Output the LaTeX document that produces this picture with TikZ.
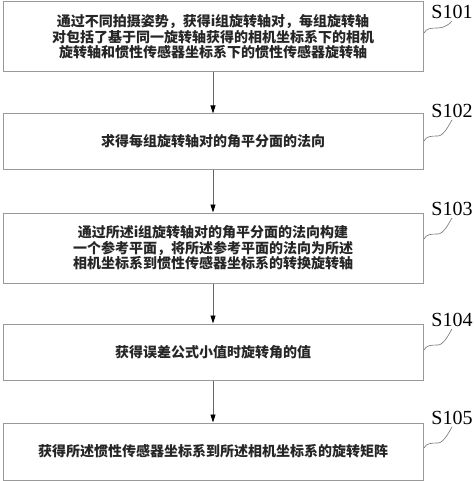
\documentclass[tikz,border=0pt]{standalone}
\usepackage{fontspec}
\newfontfamily\cjk{Noto Sans CJK SC}
\newfontfamily\labfont{Liberation Serif}
\usetikzlibrary{arrows.meta}
\begin{document}
\begin{tikzpicture}[x=1pt,y=-1pt,
  stepbox/.style={draw=black!40, line width=1pt, minimum width=420pt, align=center, font=\cjk\bfseries\fontsize{14}{15.5}\selectfont, text=black!85},
  steplab/.style={font=\labfont\fontsize{20}{20}\selectfont, inner sep=2pt},
  flow/.style={draw=black!60, line width=0.8pt, -{Triangle[length=8pt,width=5pt,black]}},
  wave/.style={draw=black!55, line width=0.6pt}]
\useasboundingbox (0,0) rectangle (474,481);
\node[stepbox, minimum height=70pt] (b1) at (213,37) {通过不同拍摄姿势，获得i组旋转轴对，每组旋转轴\\对包括了基于同一旋转轴获得的相机坐标系下的相机\\旋转轴和惯性传感器坐标系下的惯性传感器旋转轴};
\node[stepbox, minimum height=55pt] (b2) at (213,141.5) {求得每组旋转轴对的角平分面的法向};
\node[stepbox, minimum height=70pt] (b3) at (213,248) {通过所述i组旋转轴对的角平分面的法向构建\\一个参考平面，将所述参考平面的法向为所述\\相机坐标系到惯性传感器坐标系的转换旋转轴};
\node[stepbox, minimum height=56pt] (b4) at (213,352) {获得误差公式小值时旋转角的值};
\node[stepbox, minimum height=57pt] (b5) at (213,451.5) {获得所述惯性传感器坐标系到所述相机坐标系的旋转矩阵};
\node[steplab] (s1) at (452,12) {S101};
\node[steplab] (s2) at (452,111) {S102};
\node[steplab] (s3) at (452,209) {S103};
\node[steplab] (s4) at (452,320) {S104};
\node[steplab] (s5) at (452,418) {S105};
\coordinate (w1) at (424,33);
\coordinate (w2) at (424,141);
\coordinate (w3) at (424,239);
\coordinate (w4) at (424,350);
\coordinate (w5) at (424,448);
\draw[wave] (w1) .. controls +(2,-5) and +(-6,0) .. +(14,-5) .. controls +(6,0) and +(-2,3) .. (s1.south);
\draw[wave] (w2) .. controls +(2,-5) and +(-6,0) .. +(14,-5) .. controls +(6,0) and +(-2,3) .. (s2.south);
\draw[wave] (w3) .. controls +(2,-5) and +(-6,0) .. +(14,-5) .. controls +(6,0) and +(-2,3) .. (s3.south);
\draw[wave] (w4) .. controls +(2,-5) and +(-6,0) .. +(14,-5) .. controls +(6,0) and +(-2,3) .. (s4.south);
\draw[wave] (w5) .. controls +(2,-5) and +(-6,0) .. +(14,-5) .. controls +(6,0) and +(-2,3) .. (s5.south);
\draw[flow] (b1) -- (b2);
\draw[flow] (b2) -- (b3);
\draw[flow] (b3) -- (b4);
\draw[flow] (b4) -- (b5);
\end{tikzpicture}
\end{document}
